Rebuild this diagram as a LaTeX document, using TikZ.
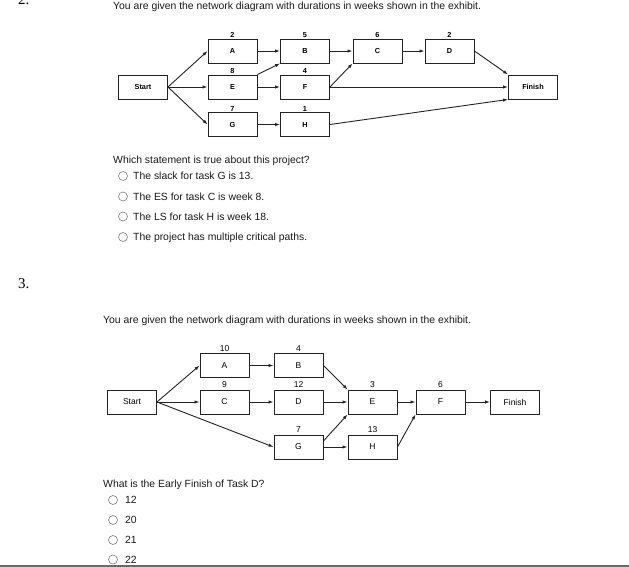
\documentclass[tikz,border=0pt]{standalone}
\usepackage{fontspec}
\setmainfont{Liberation Sans}
\newfontfamily\qnumfont{Liberation Serif}
\usetikzlibrary{positioning,arrows.meta,calc}
\definecolor{boxgray}{RGB}{35,35,35}
\definecolor{radiogray}{RGB}{125,125,125}
\definecolor{rulegray}{RGB}{105,105,105}
\definecolor{textgray}{RGB}{25,25,25}

\begin{document}
\begin{tikzpicture}[x=1pt,y=-1pt,
    task/.style={draw=boxgray,line width=0.9pt,minimum width=49pt,minimum height=24pt,inner sep=0pt},
    taskone/.style={task,font=\fontsize{7.3}{8}\selectfont\bfseries},
    tasktwo/.style={task,font=\fontsize{8.5}{9}\selectfont},
    durone/.style={anchor=south,inner sep=0.8pt,font=\fontsize{7.3}{8}\selectfont\bfseries},
    durtwo/.style={anchor=south,inner sep=1.5pt,font=\fontsize{8.5}{9}\selectfont},
    link/.style={draw=boxgray,line width=0.9pt,-{Latex[length=5pt,width=3.4pt]}},
    txt/.style={anchor=base west,inner sep=0pt,text=textgray,font=\fontsize{10.4}{12}\selectfont}]
  \useasboundingbox (0,0) rectangle (629,567);
  \clip (0,0) rectangle (629,567);

  % question numbers
  \node[anchor=base west,inner sep=0pt,font=\qnumfont\fontsize{15}{16}\selectfont] (numtwo) at (18,5) {2.};
  \node[anchor=base west,inner sep=0pt,font=\qnumfont\fontsize{15}{16}\selectfont] (numthree) at (18,288) {3.};

  % first network
  \node[txt] (titleone) at (113,10) {You are given the network diagram with durations in weeks shown in the exhibit.};
  \node[taskone] (oStart) at (143,87) {Start};
  \node[taskone] (oA) at (232.5,51) {A};
  \node[taskone] (oB) at (305,51) {B};
  \node[taskone] (oC) at (377.5,51) {C};
  \node[taskone] (oD) at (449.5,51) {D};
  \node[taskone] (oE) at (232.5,87) {E};
  \node[taskone] (oF) at (305,87) {F};
  \node[taskone] (oG) at (232.5,124.5) {G};
  \node[taskone] (oH) at (305,124.5) {H};
  \node[taskone] (oFinish) at (533,87) {Finish};
  \foreach \t/\d in {A/2,B/5,C/6,D/2,E/8,F/4,G/7,H/1}{
    \node[durone] (od\t) at (o\t.north) {\d};
  }
  \draw[link] (oStart.east) -- (oA.west);
  \draw[link] (oStart.east) -- (oE.west);
  \draw[link] (oStart.east) -- (oG.west);
  \draw[link] (oA) -- (oB);
  \draw[link] (oB) -- (oC);
  \draw[link] (oC) -- (oD);
  \draw[link] (oE.north east) -- (oB.south west);
  \draw[link] (oE) -- (oF);
  \draw[link] (oF.east) -- (oC.south west);
  \draw[link] (oF) -- (oFinish);
  \draw[link] (oD.east) -- (oFinish.north west);
  \draw[link] (oG) -- (oH);
  \draw[link] (oH.east) -- (oFinish.south west);

  \node[txt] (askone) at (113,163.5) {Which statement is true about this project?};
  \foreach \y/\s [count=\i] in {176/The slack for task G is 13.,
      196.5/The ES for task C is week 8.,
      216.5/The LS for task H is week 18.,
      237/The project has multiple critical paths.}{
    \draw[radiogray,line width=0.6pt] (123,\y) circle (4.5);
    \node[txt] (optone\i) at (133,\y+3.6) {\s};
  }

  % second network
  \node[txt] (titletwo) at (103,323.5) {You are given the network diagram with durations in weeks shown in the exhibit.};
  \node[tasktwo] (tStart) at (132,402) {Start};
  \node[tasktwo] (tA) at (224.5,365.5) {A};
  \node[tasktwo] (tB) at (298.5,365.5) {B};
  \node[tasktwo] (tC) at (224.5,402) {C};
  \node[tasktwo] (tD) at (298.5,402) {D};
  \node[tasktwo] (tE) at (372.5,402) {E};
  \node[tasktwo] (tF) at (440.5,402) {F};
  \node[tasktwo] (tFinish) at (515,402) {Finish};
  \node[tasktwo] (tG) at (298.5,447) {G};
  \node[tasktwo] (tH) at (372.5,447) {H};
  \foreach \t/\d in {A/10,B/4,C/9,D/12,E/3,F/6,G/7,H/13}{
    \node[durtwo] (td\t) at (t\t.north) {\d};
  }
  \draw[link] (tStart.east) -- (tA.west);
  \draw[link] (tStart.east) -- (tC.west);
  \draw[link] (tStart.east) -- (tG.west);
  \draw[link] (tA) -- (tB);
  \draw[link] (tC) -- (tD);
  \draw[link] (tB.east) -- (tE.north west);
  \draw[link] (tD) -- (tE);
  \draw[link] ([yshift=6pt]tG.east) -- (tE.south west);
  \draw[link] (tG) -- (tH);
  \draw[link] (tH.east) -- (tF.south west);
  \draw[link] (tE) -- (tF);
  \draw[link] (tF) -- (tFinish);

  \node[txt] (asktwo) at (103,487.5) {What is the Early Finish of Task D?};
  \foreach \y/\s [count=\i] in {500/12,520/20,540/21,559.5/22}{
    \draw[radiogray,line width=0.6pt] (113,\y) circle (4.5);
    \node[txt] (opttwo\i) at (125,\y+3.6) {\s};
  }

  \draw[rulegray,line width=2.5pt] (0,566) -- (629,566);
\end{tikzpicture}
\end{document}
